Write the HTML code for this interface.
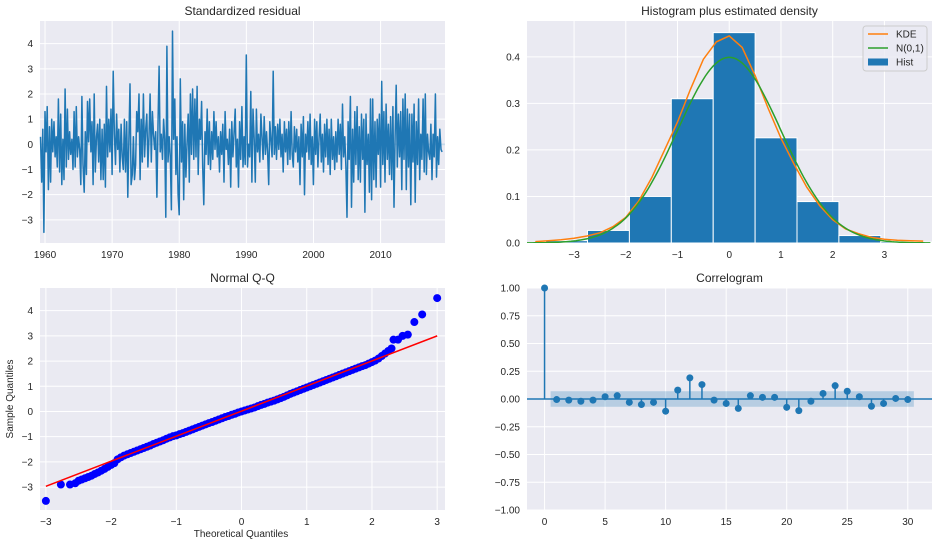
<!DOCTYPE html>
<html><head><meta charset="utf-8"><style>
body{margin:0;background:#fff;}
svg{display:block;font-family:"Liberation Sans",Arial,sans-serif;}
.tk{font-size:10px;fill:#262626;}
.tt{font-size:12px;fill:#262626;}
</style></head><body>
<svg id="fig" width="938" height="546" viewBox="0 0 938 546"></svg>
<script>
// ---------- DATA ----------
const residStart = 1959.33;
const residStep = 1/6;
const residuals = [
0.3,-1.5,0.6,-3.5,1.3,-0.3, 1.5,-1.8,0.7,-1.5,1.0,-0.3, 0.9,-0.5,0.3,-0.9,1.8,-1.1, 1.2,-1.6,0.2,-1.4,2.2,-0.9,
1.4,-0.6,0.5,-0.4,0.2,-1.0, 1.3,-0.9,1.5,-0.5,0.3,-0.2, -1.6,1.9,-0.8,-1.9,0.5,-1.2, 1.7,0.1,1.8,-0.3,0.9,-1.6,
2.0,-1.1,0.3,0.8,-0.7,1.0, -1.4,0.6,-1.4,0.8,-1.7,2.3, -0.5,1.0,-0.3,1.4,-1.2,2.9, 0.4,-0.8,1.2,-0.2,0.6,-1.1,
0.8,-0.5,-1.0,1.0,-1.1,0.9, -2.1,0.2,2.4,-1.6,-1.2,0.3, -1.4,-0.8,1.3,0.5,2.0,-1.4, 1.0,-0.7,2.0,-0.5,0.6,1.2,
-0.9,0.3,2.0,-0.7,1.3,0.4, -0.2,0.5,-2.1,0.8,3.1,-0.3, 0.4,-0.6,1.0,0.2,-2.9,3.9, -0.7,0.3,-0.5,-2.6,4.5,0.2,
1.8,-1.2,0.3,-2.0,-2.8,2.6, -0.7,0.9,-2.2,0.8,-1.3,0.1, 1.2,-1.5,2.0,-0.4,2.2,-0.6, 1.8,-0.5,2.3,-1.2,1.0,0.2,
1.7,-0.9,-2.4,0.5,-0.4,1.4, -0.8,0.9,-1.0,0.5,-0.6,1.3, -0.2,0.9,-0.5,0.3,-1.1,0.5, -0.4,0.8,-1.5,1.3,-0.2,0.2,
-0.8,0.6,-1.7,0.9,-0.5,0.4, 1.4,-0.9,0.2,-1.7,0.9,-0.6, 1.5,-0.9,0.3,-0.8,3.55,-0.9, 0.0,-0.5,2.1,-1.5,1.4,0.2,
-1.5,1.4,-0.3,0.4,-0.7,1.2, 0.3,-0.6,1.1,-0.4,0.5,-0.3, -1.6,0.9,0.2,-0.5,2.9,-0.4, 0.7,-0.6,0.8,-0.2,1.0,-0.5,
0.4,-1.1,0.9,-0.3,0.6,-0.8, 0.9,-0.6,1.3,-0.4,-0.9,0.7, -0.3,0.6,-0.7,0.3,-1.6,0.8, -0.5,1.1,-2.0,0.4,-0.3,0.9,
-0.6,1.2,-0.8,0.3,-1.6,1.0, -0.4,0.9,-0.9,0.2,1.2,-0.7, 0.4,-1.1,0.8,-0.5,1.0,-0.8, 0.6,-1.2,1.0,-0.6,0.3,-1.0,
0.5,-0.7,1.0,-0.4,0.8,-1.0, 1.6,-0.5,0.3,-0.9,-2.9,0.9, -0.6,1.9,-2.5,0.6,-1.5,1.3, -0.8,1.5,-1.4,0.7,-1.5,1.2,
-0.6,1.0,-2.7,1.2,-0.8,0.4, -1.9,1.8,-2.2,1.8,-1.4,0.9, -1.7,1.0,-0.4,1.2,-1.7,2.5, -0.8,1.3,-1.5,1.6,-0.6,0.8,
-1.2,1.1,-1.4,1.5,-2.5,0.3, 2.35,-0.9,1.2,-0.5,1.3,-1.8, 1.8,-0.6,2.0,-1.8,1.4,-0.9, 1.2,-2.4,1.2,-0.7,1.6,-2.3,
0.9,-0.8,1.8,-1.4,0.4,-0.6, 1.8,-1.1,2.0,-1.2,0.4,-0.3, -0.6,0.8,-1.4,0.4,-0.5,2.0, -1.3,0.3,-0.8,0.6,-0.2,-0.3
];
const histEdges = [-3.55,-2.74,-1.93,-1.12,-0.31,0.50,1.31,2.12,2.93,3.74,4.55];
const histHeights = [0.005,0.027,0.100,0.310,0.452,0.226,0.089,0.016,0.003,0.002];
const kdeX = [-3.75,-3.5,-3.25,-3,-2.75,-2.5,-2.25,-2,-1.75,-1.5,-1.25,-1,-0.75,-0.5,-0.25,0,0.25,0.5,0.75,1,1.25,1.5,1.75,2,2.25,2.5,2.75,3,3.25,3.5,3.75];
const kdeY = [.003,.005,.007,.01,.015,.022,.035,.055,.09,.14,.2,.26,.33,.395,.432,.445,.42,.36,.29,.225,.17,.12,.08,.05,.03,.02,.012,.008,.006,.005,.004];
const qqTheo = [-3.0,-2.77,-2.63,-2.55,-2.5,-2.45,
-2.4,-2.35,-2.3,-2.25,-2.2,-2.15,-2.1,-2.05,-2.0,-1.95,-1.9,-1.85,-1.8,-1.75,-1.7,-1.65,-1.6,-1.55,-1.5,-1.45,-1.4,-1.35,-1.3,-1.25,-1.2,-1.15,-1.1,-1.05,-1.0,-0.95,-0.9,-0.85,-0.8,-0.75,-0.7,-0.65,-0.6,-0.55,-0.5,-0.45,-0.4,-0.35,-0.3,-0.25,-0.2,-0.15,-0.1,-0.05,
0,0.05,0.1,0.15,0.2,0.25,0.3,0.35,0.4,0.45,0.5,0.55,0.6,0.65,0.7,0.75,0.8,0.85,0.9,0.95,1.0,1.05,1.1,1.15,1.2,1.25,1.3,1.35,1.4,1.45,1.5,1.55,1.6,1.65,1.7,1.75,1.8,1.85,1.9,1.95,2.0,2.05,2.1,2.15,2.2,2.25,
2.3,2.33,2.4,2.47,2.55,2.65,2.77,3.0];
const qqSample = [-3.55,-2.9,-2.9,-2.85,-2.75,-2.7,
-2.65,-2.6,-2.55,-2.48,-2.42,-2.35,-2.28,-2.2,-2.12,-2.05,-1.9,-1.82,-1.75,-1.7,-1.65,-1.6,-1.55,-1.5,-1.45,-1.4,-1.35,-1.29,-1.24,-1.19,-1.14,-1.08,-1.03,-0.98,-0.95,-0.9,-0.86,-0.81,-0.76,-0.71,-0.66,-0.61,-0.56,-0.51,-0.46,-0.42,-0.37,-0.32,-0.27,-0.22,-0.18,-0.13,-0.09,-0.04,
0,0.04,0.08,0.12,0.16,0.21,0.26,0.3,0.35,0.39,0.43,0.48,0.53,0.58,0.64,0.7,0.75,0.8,0.85,0.9,0.95,1.0,1.05,1.1,1.15,1.2,1.25,1.3,1.35,1.4,1.45,1.5,1.55,1.6,1.65,1.7,1.75,1.8,1.84,1.9,1.96,2.02,2.1,2.2,2.3,2.4,
2.5,2.85,2.85,3.0,3.05,3.55,3.85,4.5];
const acfLags = [0,1,2,3,4,5,6,7,8,9,10,11,12,13,14,15,16,17,18,19,20,21,22,23,24,25,26,27,28,29,30];
const acfValues = [1,-0.005,-0.01,-0.02,-0.01,0.02,0.03,-0.03,-0.05,-0.03,-0.11,0.08,0.19,0.13,-0.01,-0.04,-0.085,0.03,0.015,0.015,-0.075,-0.105,-0.02,0.05,0.12,0.07,0.02,-0.065,-0.04,0.005,-0.005];
const confBand = 0.07;
const tsTicks = [1960,1970,1980,1990,2000,2010];
const resTicks = [-3,-2,-1,0,1,2,3,4];
const histXTicks = [-3,-2,-1,0,1,2,3];
const histYTicks = [0.0,0.1,0.2,0.3,0.4];
const qqXTicks = [-3,-2,-1,0,1,2,3];
const acfXTicks = [0,5,10,15,20,25,30];
const acfYTicks = [-1,-0.75,-0.5,-0.25,0,0.25,0.5,0.75,1];

// ---------- HELPERS ----------
const NS="http://www.w3.org/2000/svg";
const fig=document.getElementById('fig');
function mk(tag,attrs,parent){const e=document.createElementNS(NS,tag);for(const k in attrs)e.setAttribute(k,attrs[k]);(parent||fig).appendChild(e);return e;}
function lin(d0,d1,r0,r1){return v=>r0+(v-d0)/(d1-d0)*(r1-r0);}
function axes(name,L,T,R,B,xd,yd,title){
  const g=mk('g',{});
  
  
  const bg=mk('rect',{x:L,y:T,width:R-L,height:B-T,fill:'#EAEAF2'},g);
  
  
  const t=mk('text',{x:(L+R)/2,y:T-6,'text-anchor':'middle',class:'tt'},g);
  t.textContent=title;
  
  
  return {g,L,T,R,B,x:lin(xd[0],xd[1],L,R),y:lin(yd[0],yd[1],B,T)};
}
function grid(a,xt,yt,fmtX,fmtY){
  xt.forEach(v=>{const X=a.x(v);
    const l=mk('line',{x1:X,x2:X,y1:a.T,y2:a.B,stroke:'#fff','stroke-width':1},a.g);
    
    
    const t=mk('text',{x:X,y:a.B+15,'text-anchor':'middle',class:'tk'},a.g);t.textContent=fmtX(v);
    
    });
  yt.forEach(v=>{const Y=a.y(v);
    const l=mk('line',{x1:a.L,x2:a.R,y1:Y,y2:Y,stroke:'#fff','stroke-width':1},a.g);
    
    
    const t=mk('text',{x:a.L-7,y:Y+3.5,'text-anchor':'end',class:'tk'},a.g);t.textContent=fmtY(v);
    
    });
}
const minus=s=>String(s).replace('-','\u2212');

// ---------- PANEL 1: residual time series ----------
const a1=axes('standardized-residual-panel',40,21,445,243,[1959.25,2019.6],[-3.92,4.90],'Standardized residual');
grid(a1,tsTicks,resTicks,v=>v,v=>minus(v));
const z1=mk('line',{x1:a1.L,x2:a1.R,y1:a1.y(0),y2:a1.y(0),stroke:'#1f77b4','stroke-opacity':0.25,'stroke-width':1.5},a1.g);


let d1=residuals.map((v,i)=>(i?'L':'M')+a1.x(residStart+i*residStep).toFixed(1)+','+a1.y(v).toFixed(1)).join('');
const p1=mk('path',{d:d1,fill:'none',stroke:'#1f77b4','stroke-width':1.5,'stroke-linejoin':'round'},a1.g);



// ---------- PANEL 2: histogram ----------
const a2=axes('histogram-panel',527,21,932,243,[-3.91,3.92],[0,0.477],'Histogram plus estimated density');
grid(a2,histXTicks,histYTicks,v=>minus(v),v=>v.toFixed(1));
const clip=mk('clipPath',{id:'c2'});mk('rect',{x:a2.L,y:a2.T,width:a2.R-a2.L,height:a2.B-a2.T},clip);
const hg=mk('g',{'clip-path':'url(#c2)'},a2.g);
histHeights.forEach((h,i)=>{
  const x0=a2.x(histEdges[i]),x1=a2.x(histEdges[i+1]);
  const r=mk('rect',{x:x0,y:a2.y(h),width:x1-x0,height:a2.y(0)-a2.y(h),fill:'#1f77b4',stroke:'#fff','stroke-width':1},hg);
  
  
});
const kd=kdeX.map((x,i)=>(i?'L':'M')+a2.x(x).toFixed(1)+','+a2.y(kdeY[i]).toFixed(1)).join('');
let nd='';for(let x=-3.91;x<=3.92;x+=0.05){nd+=(nd?'L':'M')+a2.x(x).toFixed(1)+','+a2.y(Math.exp(-x*x/2)/Math.sqrt(2*Math.PI)).toFixed(1);}
const kp=mk('path',{d:kd,fill:'none',stroke:'#ff7f0e','stroke-width':1.5},hg);


const np=mk('path',{d:nd,fill:'none',stroke:'#2ca02c','stroke-width':1.5},hg);


const lg=mk('g',{},a2.g);


mk('rect',{x:863,y:26,width:64,height:45,rx:3,fill:'#EAEAF2','fill-opacity':0.8,stroke:'#cccccc','stroke-width':1},lg);
[['KDE','#ff7f0e','line'],['N(0,1)','#2ca02c','line'],['Hist','#1f77b4','patch']].forEach((e,i)=>{
  const y=34+i*14;
  const eg=mk('g',{},lg);
  
  
  if(e[2]=='line')mk('line',{x1:868,x2:888,y1:y,y2:y,stroke:e[1],'stroke-width':1.5},eg);
  else mk('rect',{x:868,y:y-3.5,width:20,height:7,fill:e[1]},eg);
  const t=mk('text',{x:896,y:y+3.5,class:'tk'},eg);t.textContent=e[0];
});

// ---------- PANEL 3: Q-Q ----------
const a3=axes('normal-qq-panel',40,288,445,510,[-3.09,3.12],[-3.91,4.9],'Normal Q-Q');
grid(a3,qqXTicks,resTicks,v=>minus(v),v=>minus(v));
qqTheo.forEach((t,i)=>{
  const c=mk('circle',{cx:a3.x(t),cy:a3.y(qqSample[i]),r:4,fill:'#0000ff'},a3.g);
  
  
});
const rl=mk('line',{x1:a3.x(-3),y1:a3.y(-2.97),x2:a3.x(3),y2:a3.y(3.0),stroke:'#ff0000','stroke-width':1.5},a3.g);


const xl=mk('text',{x:241,y:537,'text-anchor':'middle',class:'tk'},a3.g);xl.textContent='Theoretical Quantiles';


const yl=mk('text',{x:13,y:399,'text-anchor':'middle',class:'tk',transform:'rotate(-90 13 399)'},a3.g);yl.textContent='Sample Quantiles';



// ---------- PANEL 4: correlogram ----------
const a4=axes('correlogram-panel',527,288,932,510,[-1.45,32.0],[-1,1],'Correlogram');
grid(a4,acfXTicks,acfYTicks,v=>v,v=>minus(v.toFixed(2)));
const band=mk('rect',{x:a4.x(0.5),y:a4.y(confBand),width:a4.x(30.5)-a4.x(0.5),height:a4.y(-confBand)-a4.y(confBand),fill:'#1f77b4','fill-opacity':0.25},a4.g);


const zl=mk('line',{x1:a4.L,x2:a4.R,y1:a4.y(0),y2:a4.y(0),stroke:'#1f77b4','stroke-width':1.5},a4.g);


acfLags.forEach((k,i)=>{
  const X=a4.x(k),Y=a4.y(acfValues[i]);
  const s=mk('line',{x1:X,x2:X,y1:a4.y(0),y2:Y,stroke:'#1f77b4','stroke-width':1.5},a4.g);
  
  
  const c=mk('circle',{cx:X,cy:Y,r:3.5,fill:'#1f77b4'},a4.g);
  
  
});
</script>
</body></html>
